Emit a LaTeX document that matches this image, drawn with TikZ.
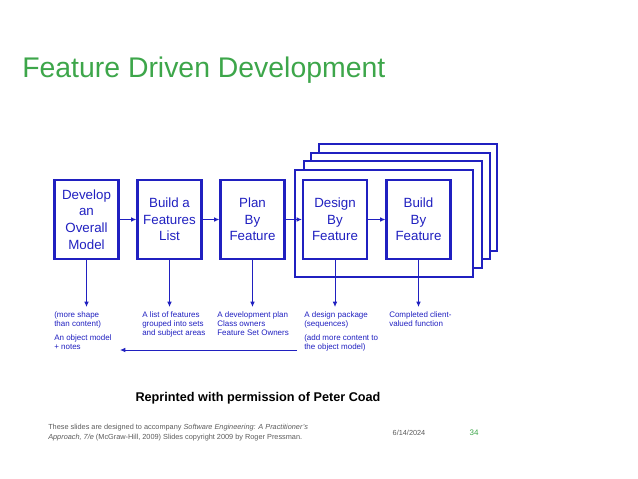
\documentclass[tikz,border=0pt]{standalone}
\usepackage{fontspec}
\setmainfont{Liberation Sans}
\usetikzlibrary{arrows.meta}
\definecolor{fblue}{HTML}{2020C0}
\definecolor{tgreen}{HTML}{3DA64A}
\definecolor{ggray}{HTML}{5A5A5A}
\begin{document}
\begin{tikzpicture}[x=0.75pt,y=-0.75pt,
  box/.style={draw=fblue,line width=1.6pt,minimum width=48pt,minimum height=59pt,inner sep=0pt,align=center,text=fblue,font=\fontsize{10}{12.5}\selectfont},
  frame/.style={draw=fblue,line width=0.9pt,fill=white},
  arr/.style={draw=fblue,line width=0.7pt,-{Latex[length=4pt,width=3.5pt]}},
  lab/.style={text=fblue,font=\fontsize{6}{7}\selectfont,align=left,anchor=north west,inner sep=0pt}]
\useasboundingbox (0,0) rectangle (638,478);
\node[anchor=west,text=tgreen,font=\fontsize{21.3}{24}\selectfont,inner sep=0pt] (title) at (22,70) {Feature Driven Development};
\draw[frame] (319,144) rectangle (497,251);
\draw[frame] (311,153) rectangle (490,259);
\draw[frame] (304,161) rectangle (482,268);
\draw[frame] (295,170) rectangle (473,277);
\node[box] (b1) at (86.5,219.5) {Develop\\an\\Overall\\Model};
\node[box] (b2) at (169.5,219.5) {Build a\\Features\\List};
\node[box] (b3) at (252.5,219.5) {Plan\\By\\Feature};
\node[box] (b4) at (335,219.5) {Design\\By\\Feature};
\node[box] (b5) at (418.5,219.5) {Build\\By\\Feature};
\draw[arr] (b1) -- (b2);
\draw[arr] (b2) -- (b3);
\draw[arr] (b3) -- (b4);
\draw[arr] (b4) -- (b5);
\coordinate (e1) at (86.5,307); \coordinate (e2) at (169.5,307);
\coordinate (e3) at (252.5,307); \coordinate (e4) at (335,307);
\coordinate (e5) at (418.5,307);
\foreach \i in {1,...,5}{\draw[arr] (b\i.south) -- (e\i);}
\node[lab] (t1) at (54,311) {(more shape\\than content)};
\node[lab] (t1b) at (54,334) {An object model\\+ notes};
\node[lab] (t2) at (142,311) {A list of features\\grouped into sets\\and subject areas};
\node[lab] (t3) at (217,311) {A development plan\\Class owners\\Feature Set Owners};
\node[lab] (t4) at (304,311) {A design package\\(sequences)};
\node[lab] (t4b) at (304,334) {(add more content to\\the object model)};
\node[lab] (t5) at (389,311) {Completed client-\\valued function};
\coordinate (fb) at (297,350);
\coordinate (fe) at (120,350);
\draw[arr] (fb) -- (fe);
\node[font=\bfseries\fontsize{9.5}{11}\selectfont,inner sep=0pt] (rep) at (258,398) {Reprinted with permission of Peter Coad};
\node[anchor=north west,text=ggray,font=\fontsize{5.5}{7.5}\selectfont,align=left,inner sep=0pt] (foot) at (48,424) {These slides are designed to accompany \textit{Software Engineering: A Practitioner's}\\\textit{Approach, 7/e} (McGraw-Hill, 2009) Slides copyright 2009 by Roger Pressman.};
\node[text=ggray,font=\fontsize{5.5}{7}\selectfont,inner sep=0pt] (date) at (409,433) {6/14/2024};
\node[text=tgreen,font=\fontsize{6}{7}\selectfont,inner sep=0pt] (pg) at (474,433) {34};
\end{tikzpicture}
\end{document}
